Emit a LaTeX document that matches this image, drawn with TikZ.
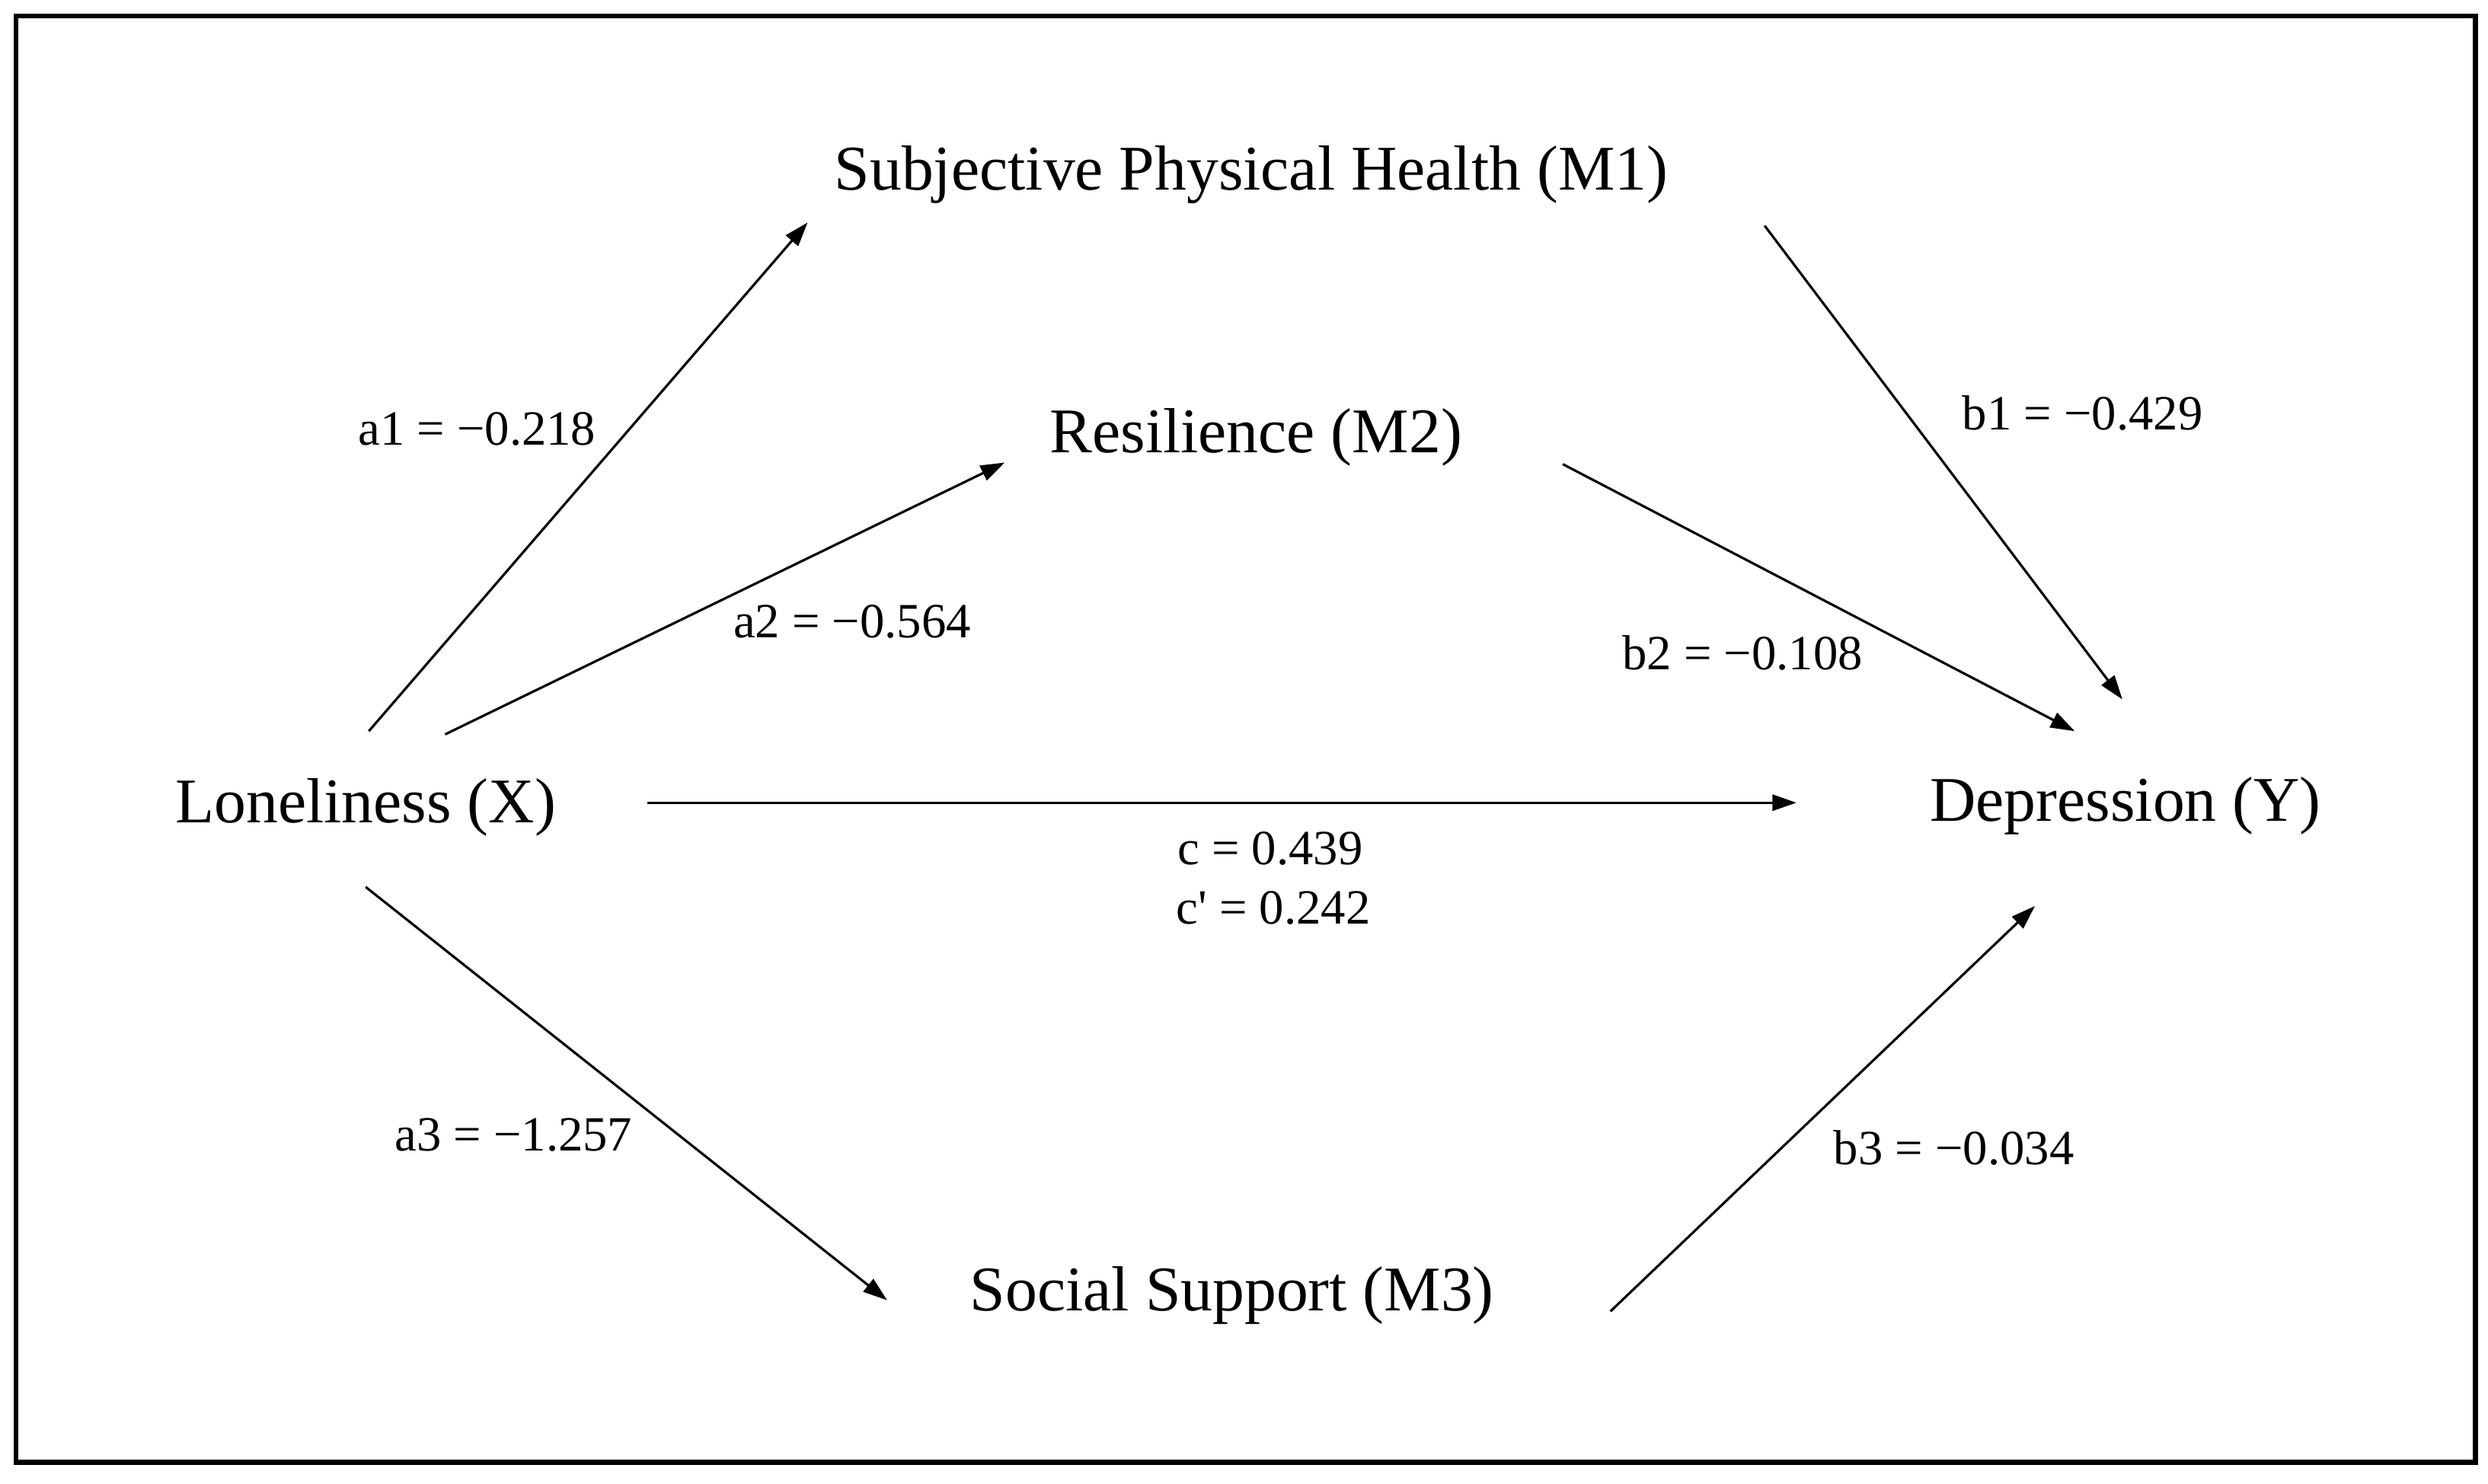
\documentclass[tikz,border=0pt]{standalone}
\usepackage{fontspec}
\setmainfont{Liberation Serif}
\usetikzlibrary{arrows.meta}
\begin{document}
\begin{tikzpicture}[x=0.020875cm,y=-0.020875cm,
  var/.style={font=\fontsize{23.8}{28}\selectfont, inner sep=0pt},
  lab/.style={font=\fontsize{18.4}{22}\selectfont, inner sep=0pt},
  arr/.style={-{Triangle[length=9pt,width=6pt]}, line width=0.9pt}]
\useasboundingbox (0,0) rectangle (1565,933.6);
\draw[line width=1.8pt] (10,10) rectangle (1557,920);
\node[var] (M1) at (787,110) {Subjective Physical Health (M1)};
\node[var] (M2) at (790,275) {Resilience (M2)};
\node[var] (X) at (230,508) {Loneliness (X)};
\node[var] (Y) at (1337,507) {Depression (Y)};
\node[var] (M3) at (775,815) {Social Support (M3)};
\coordinate (x1) at (232,460); \coordinate (m1a) at (508,140);
\coordinate (x2) at (280,462); \coordinate (m2a) at (632,291);
\coordinate (x3) at (407,505); \coordinate (ya) at (1130,505);
\coordinate (x4) at (230,558); \coordinate (m3a) at (558,818);
\coordinate (m1b) at (1110,142); \coordinate (y1) at (1335,440);
\coordinate (m2b) at (983,292); \coordinate (y2) at (1305,460);
\coordinate (m3b) at (1013,825); \coordinate (y3) at (1280,570);
\draw[arr] (x1) -- (m1a);
\draw[arr] (x2) -- (m2a);
\draw[arr] (x3) -- (ya);
\draw[arr] (x4) -- (m3a);
\draw[arr] (m1b) -- (y1);
\draw[arr] (m2b) -- (y2);
\draw[arr] (m3b) -- (y3);
\node[lab] (la1) at (300,270) {a1 = −0.218};
\node[lab] (la2) at (536,391) {a2 = −0.564};
\node[lab] (lb1) at (1310,260) {b1 = −0.429};
\node[lab] (lb2) at (1096,411) {b2 = −0.108};
\node[lab] (lc) at (799,534) {c = 0.439};
\node[lab] (lcp) at (801,571) {c\textquotesingle{} = 0.242};
\node[lab] (la3) at (323,714) {a3 = −1.257};
\node[lab] (lb3) at (1229,722) {b3 = −0.034};
\end{tikzpicture}
\end{document}
